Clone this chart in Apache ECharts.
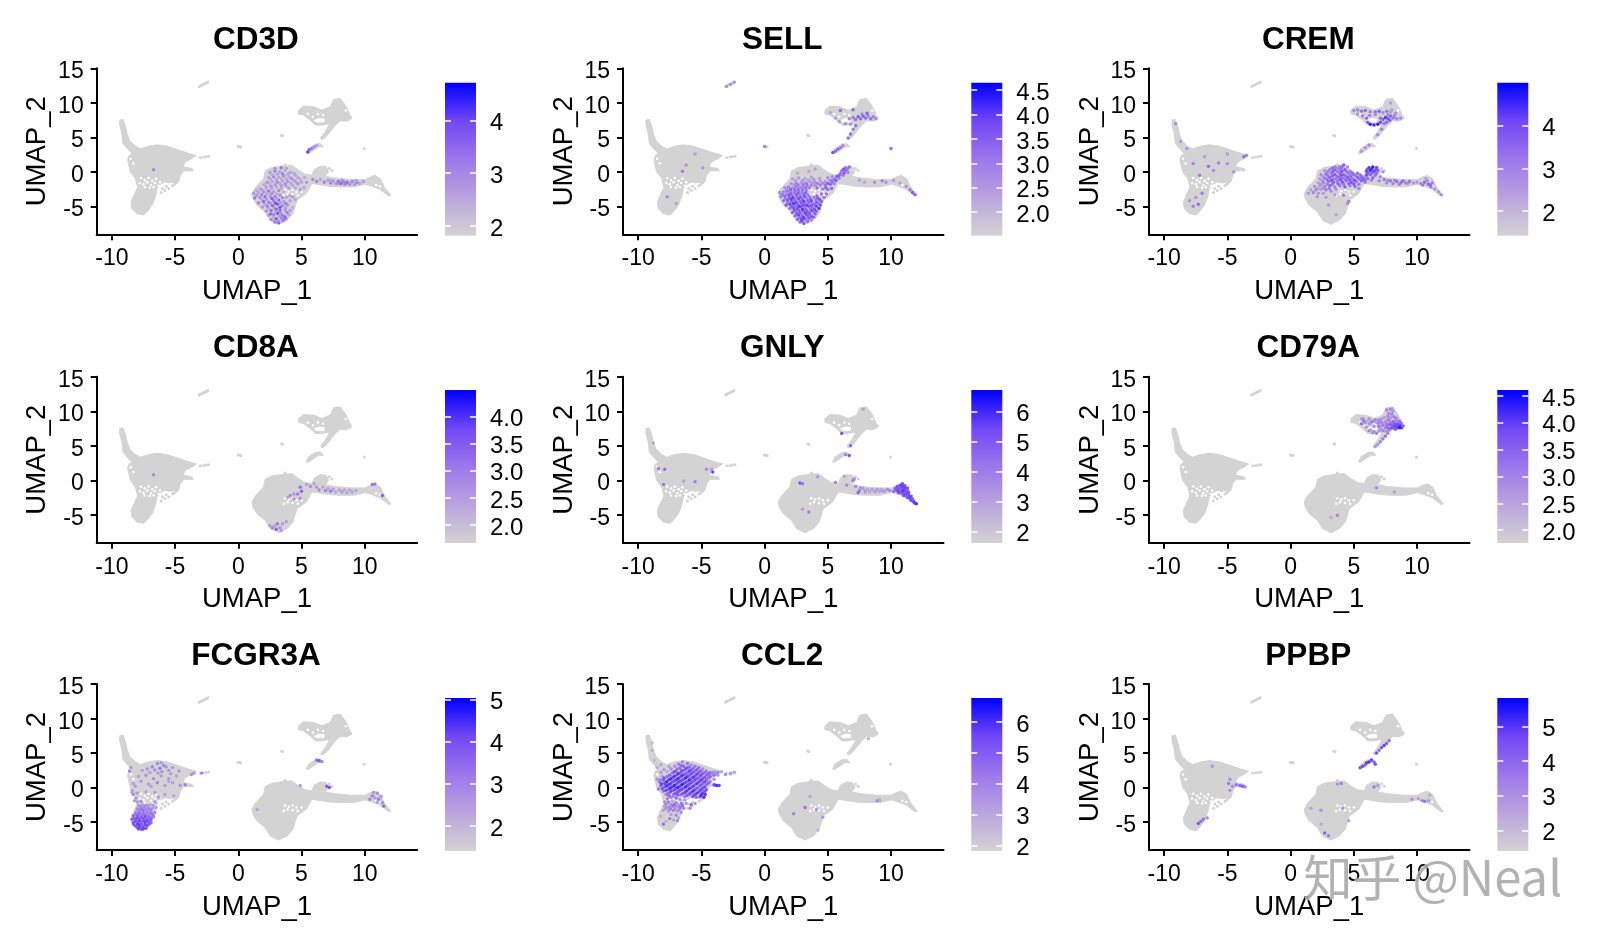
<!DOCTYPE html>
<html lang="en">
<head>
<meta charset="UTF-8">
<title>UMAP feature plots</title>
<script src="https://cdn.jsdelivr.net/npm/echarts@6/dist/echarts.min.js"></script>
<style>
  html, body { margin: 0; padding: 0; background: #fff; }
  #main { width: 1600px; height: 945px; }
</style>
</head>
<body>
<div id="main"></div>
<script>
const genes = ['CD3D', 'SELL', 'CREM', 'CD8A', 'GNLY', 'CD79A', 'FCGR3A', 'CCL2', 'PPBP'];
const xTicks = [-10, -5, 0, 5, 10];
const yTicks = [-5, 0, 5, 10, 15];
const xRange = [-11.2, 14.15];
const yRange = [-9.06, 15.03];

// colour bar range and ticks of every gene
const barMin = [1.82, 1.52, 1.42, 1.67, 1.62, 1.76, 1.41, 1.82, 1.41];
const barMax = [4.71, 4.65, 5.01, 4.49, 6.73, 4.61, 5.03, 6.78, 5.82];
const barTicks = [
  ['2', '3', '4'],
  ['2.0', '2.5', '3.0', '3.5', '4.0', '4.5'],
  ['2', '3', '4'],
  ['2.0', '2.5', '3.0', '3.5', '4.0'],
  ['2', '3', '4', '5', '6'],
  ['2.0', '2.5', '3.0', '3.5', '4.0', '4.5'],
  ['2', '3', '4', '5'],
  ['2', '3', '4', '5', '6'],
  ['2', '3', '4', '5']
];
const lowToHigh = ['#D3D3D3', '#BAA4DE', '#9C77EB', '#7147F5', '#0000FF'];

// shape of the cell clusters
const clusterMono = [[-9.38,7.51],[-9.12,7.61],[-8.93,6.64],[-8.8,5.57],[-8.59,4.51],[-8.14,3.73],[-7.75,3.34],[-7.09,3.73],[-6.43,3.92],[-5.64,3.73],[-4.85,3.25],[-4.06,2.76],[-3.32,2.37],[-3.66,1.94],[-4.19,1.45],[-4.37,0.73],[-3.66,0.48],[-3.58,0.15],[-4.32,0.15],[-4.58,-0.48],[-4.72,-1.45],[-5.51,-1.6],[-5.77,-1.45],[-6.17,-1.8],[-6.43,-2.42],[-6.56,-3.63],[-6.82,-4.85],[-7.22,-5.81],[-7.48,-6.25],[-8.01,-6.06],[-8.41,-5.33],[-8.48,-4.36],[-8.19,-3.15],[-7.96,-2.28],[-8.14,-0.97],[-8.54,0],[-8.75,1.7],[-8.67,2.28],[-8.41,2.66],[-8.8,3.39],[-9.12,4.12],[-9.2,5.57],[-9.38,6.78]];
const clusterT = [[1.08,-3.15],[1.34,-2.28],[2,-0.97],[2.13,0.15],[2.66,0.63],[3.58,0.87],[4.24,0.97],[4.77,0.24],[5.3,-0.34],[5.82,-0.48],[6.01,0.34],[6.48,0.82],[6.96,0.73],[7.14,0],[6.88,-0.63],[7.54,-0.87],[8.85,-1.11],[10.04,-1.11],[10.43,-0.73],[10.83,-0.53],[11.23,-0.97],[11.54,-2.18],[12.07,-3.44],[11.88,-3.49],[11.23,-2.57],[10.57,-2.08],[10.04,-1.79],[9.12,-2.18],[8.06,-2.18],[7.14,-2.08],[6.22,-1.79],[5.82,-1.7],[5.38,-3.15],[4.64,-4.12],[4.32,-6.06],[3.85,-7.03],[3.19,-7.61],[2.53,-7.03],[2.13,-5.81],[1.48,-4.85],[1.16,-3.88]];
const clusterB = [[4.77,8.96],[5.16,9.54],[5.96,9.45],[6.61,8.96],[7.27,9.45],[7.54,10.51],[8.06,10.66],[8.46,9.69],[8.72,8.72],[8.99,7.75],[8.59,7.36],[8.06,7.41],[7.67,6.78],[7.27,5.81],[6.88,4.99],[6.61,4.7],[6.53,4.99],[6.88,5.81],[7.14,6.64],[7.2,7],[6.48,6.75],[6.09,6.8],[5.69,7.5],[5.16,8.24],[4.77,8.38]];
const clusterArc = [[5.38,2.66],[5.56,3.39],[6.09,4.02],[6.48,4.12],[6.75,3.63],[6.35,3.63],[5.96,3.15],[5.56,2.66]];
const clusterSliver = [[-3.14,12.2],[-3.14,12.5],[-2.35,13.2],[-2.35,12.9]];
const clusterOutlines = [clusterMono, clusterT, clusterB, clusterArc, clusterSliver];
const holeOutlines = [[[5.95,7.5],[6.4,7.8],[6.85,7.7],[6.8,7.2],[6.2,7.15]]];
const strayPoints = [[3.5,5.23],[3.42,5.3],[-0.02,3.68],[0.1,3.66],[0.2,3.6],[9.96,3.39],[-3,2.1],[-2.75,2.15],[-2.55,2.2],[-2.35,2.25],[-5.2,-2],[-5.5,-2.4],[-5.8,-2.7],[-5.05,-1.8],[-6,-2.4],[-6.1,-3],[-5.7,-2.1],[-4.9,-1.55],[7.2,0.5],[7.4,0.2],[3.7,1.05]];
const gapDots = [[-7.7,-0.9],[-7.4,-1.2],[-7.1,-0.9],[-6.8,-1.3],[-6.5,-1],[-6.2,-1.5],[-7.8,-1.6],[-7.5,-1.8],[-7.2,-1.5],[-6.9,-1.9],[-6.6,-1.6],[-6.3,-2],[-7.4,-2.2],[-7,-2.3],[-6.7,-2.2],[-8.3,1.2],[-8.5,1.9],[3.7,-2.6],[4,-2.8],[4.3,-2.6],[4.6,-2.9],[3.9,-3.2],[4.3,-3.3],[3.6,-3.4],[4.7,-3.4],[5,-2.9],[8.9,8.45],[8.5,8.9],[5.5,8.4],[5.9,8],[6.3,8.4],[6.7,8.2],[11.2,-2.1],[10.9,-1.9]];

// points above the grey background: [UMAP_1, UMAP_2, expression]
const cd3dPoints = [[2.9,-7.3,3.2],[3.2,-7.4,3.6],[3.5,-7.1,2.8],[2.6,-6.9,3.0],[3.0,-6.8,3.7],[3.4,-6.7,3.1],[3.8,-6.8,2.6],[2.4,-6.3,2.7],[2.8,-6.2,3.3],[3.1,-6.0,3.9],[3.5,-6.3,3.2],[4.0,-6.2,2.6],[2.2,-5.7,2.9],[2.6,-5.6,3.4],[3.0,-5.4,3.8],[3.3,-5.6,3.5],[3.7,-5.5,2.9],[4.1,-5.6,2.7],[4.3,-5.2,2.4],[1.9,-5.1,2.8],[2.3,-5.0,3.2],[2.7,-4.9,3.5],[3.1,-4.7,3.7],[3.5,-4.9,3.0],[3.9,-4.8,2.8],[1.6,-4.5,3.1],[2.0,-4.3,3.5],[2.4,-4.4,3.1],[2.8,-4.2,3.3],[3.2,-4.1,3.6],[3.6,-4.3,2.7],[4.1,-4.2,2.6],[4.5,-4.0,2.5],[1.3,-3.8,3.3],[1.7,-3.7,2.9],[2.1,-3.6,3.4],[2.5,-3.5,2.8],[2.9,-3.6,3.2],[3.3,-3.4,2.9],[3.8,-3.7,2.6],[4.3,-3.6,2.7],[1.2,-3.1,2.7],[1.6,-3.0,2.6],[2.0,-2.9,2.9],[2.4,-2.8,3.3],[2.8,-2.9,2.7],[3.2,-2.7,3.0],[3.6,-2.9,2.5],[4.9,-2.6,2.7],[5.2,-2.3,2.5],[1.7,-2.4,2.4],[2.2,-2.2,2.7],[2.6,-2.1,3.0],[3.0,-2.2,2.6],[3.4,-2.0,2.8],[3.8,-2.1,2.5],[4.3,-1.9,2.6],[4.7,-1.7,2.9],[2.3,-1.5,2.8],[2.7,-1.4,2.5],[3.1,-1.5,3.0],[3.5,-1.3,2.6],[3.9,-1.4,2.8],[4.4,-1.2,2.5],[4.9,-1.1,2.4],[2.4,-0.8,2.6],[2.8,-0.7,3.1],[3.2,-0.8,2.6],[3.6,-0.6,2.9],[4.0,-0.7,2.5],[4.5,-0.5,2.6],[2.5,-0.1,2.7],[2.9,0.1,3.0],[3.3,0,2.7],[3.7,0.2,2.5],[4.1,-0.1,2.7],[2.9,0.5,2.9],[3.4,0.6,3.3],[3.8,0.5,2.6],[5.9,-1.1,2.9],[6.2,-1.4,3.0],[6.5,-1.1,2.6],[6.8,-1.5,3.1],[7.1,-1.2,2.8],[7.3,-1.6,3.2],[7.5,-1.3,2.9],[7.7,-1.7,2.7],[7.9,-1.4,3.4],[8.1,-1.7,3.6],[8.3,-1.4,3.3],[8.4,-1.8,3.0],[8.6,-1.5,3.5],[8.8,-1.8,2.9],[9,-1.4,3.1],[9.2,-1.8,2.8],[9.4,-1.5,3.0],[9.6,-1.7,2.6],[9.9,-1.4,2.7],[5.5,2.9,4.1],[5.6,3.2,3.5],[5.8,3.4,3.2],[6,3.6,2.9],[6.2,3.8,2.6],[-6.7,0.3,3.0]];
const cd3dMore = [[2.75,-7.05,2.6],[3.15,-7.1,2.9],[3.6,-6.95,3.3],[2.8,-6.55,2.5],[3.25,-6.4,2.7],[3.7,-6.55,3.5],[2.55,-6.1,3.5],[2.95,-5.8,2.6],[3.35,-5.95,2.8],[3.85,-5.9,3.1],[2.4,-5.35,2.5],[2.85,-5.2,2.9],[3.3,-5.15,3.9],[3.75,-5.2,2.6],[2.1,-4.7,2.6],[2.55,-4.55,2.9],[2.95,-4.55,3.9],[3.35,-4.5,2.7],[3.75,-4.6,3.2],[1.85,-4,2.6],[2.25,-3.95,2.8],[2.65,-3.85,3.6],[3.05,-3.9,2.6],[3.5,-3.75,3.0],[4.05,-3.45,2.5],[1.45,-3.4,2.8],[1.85,-3.3,3.1],[2.25,-3.2,2.6],[2.65,-3.15,3.0],[3.05,-3.2,2.5],[1.45,-2.7,2.5],[1.85,-2.55,2.7],[2.25,-2.5,2.5],[2.65,-2.45,2.6],[3.4,-2.4,2.5],[4,-2.35,2.7],[4.5,-2.3,2.5],[2.05,-1.85,2.6],[2.5,-1.75,2.5],[2.9,-1.85,2.8],[3.3,-1.7,2.5],[3.7,-1.75,3.0],[4.15,-1.6,2.5],[4.55,-1.45,2.7],[5,-1.5,2.6],[5.4,-1.5,2.7],[2.55,-1.1,2.5],[3,-1.15,2.7],[3.4,-1,2.5],[3.8,-1.05,2.6],[4.2,-0.95,2.9],[4.7,-0.85,2.5],[5.25,-0.8,2.5],[2.7,-0.4,2.5],[3.1,-0.35,2.6],[3.5,-0.3,3.1],[3.9,-0.35,2.5],[4.4,-0.2,2.5],[7.3,-1.25,2.6],[7.85,-1.65,2.9],[8.2,-1.25,2.9],[8.5,-1.7,3.2],[8.9,-1.6,2.7],[9.3,-1.25,2.6]];
const sellPoints = [[2.8,-7.3,3.1],[3.1,-7.5,3.5],[3.4,-7.2,3.3],[3.7,-7,2.9],[2.6,-6.9,3.4],[2.9,-6.8,3.8],[3.2,-6.9,3.2],[3.5,-6.7,3.6],[3.9,-6.6,3.0],[2.4,-6.4,3.3],[2.7,-6.3,3.9],[3,-6.4,3.4],[3.3,-6.2,3.7],[3.6,-6.3,3.2],[4,-6.1,3.5],[2.2,-5.9,3.5],[2.5,-5.8,3.2],[2.8,-5.9,3.8],[3.1,-5.7,3.3],[3.4,-5.8,3.6],[3.7,-5.6,3.9],[4.1,-5.7,3.4],[4.3,-5.3,4.0],[2,-5.3,3.2],[2.3,-5.2,3.7],[2.6,-5.3,3.9],[2.9,-5.1,3.4],[3.2,-5.2,3.1],[3.5,-5,3.6],[3.8,-5.2,3.3],[4.1,-5,3.9],[4.4,-4.8,3.8],[1.7,-4.8,3.6],[2,-4.7,3.9],[2.3,-4.6,4.1],[2.6,-4.7,3.3],[2.9,-4.5,3.7],[3.2,-4.6,3.2],[3.5,-4.4,3.5],[3.8,-4.6,3.0],[4.1,-4.4,3.6],[4.5,-4.3,3.4],[1.5,-4.2,3.3],[1.8,-4.1,3.7],[2.1,-4,4.0],[2.4,-4.1,3.5],[2.7,-3.9,3.8],[3,-4,3.3],[3.3,-3.8,3.0],[3.6,-3.9,3.4],[3.9,-3.7,3.1],[4.2,-3.8,3.5],[4.7,-3.7,3.1],[1.3,-3.6,3.0],[1.6,-3.5,3.4],[1.9,-3.4,3.6],[2.2,-3.5,3.2],[2.5,-3.3,3.5],[2.8,-3.4,3.1],[3.1,-3.2,3.4],[3.4,-3.3,2.9],[4.5,-3.2,3.2],[4.9,-3.2,3.0],[1.2,-3,2.8],[1.5,-2.9,3.0],[1.8,-2.8,3.3],[2.1,-2.9,3.0],[2.4,-2.7,3.4],[2.7,-2.8,2.9],[3,-2.6,3.3],[3.3,-2.7,2.8],[4.6,-2.5,3.0],[5,-2.6,3.2],[5.3,-2.4,3.3],[1.6,-2.3,2.7],[1.9,-2.2,3.0],[2.2,-2.3,2.7],[2.5,-2.1,3.1],[2.8,-2.2,2.7],[3.1,-2,3.0],[3.4,-2.1,2.7],[3.7,-1.9,3.0],[4,-2,2.8],[4.4,-1.9,2.9],[4.8,-1.9,3.1],[5.2,-1.8,3.4],[5.5,-1.7,3.0],[2.1,-1.7,2.6],[2.5,-1.6,2.9],[2.9,-1.5,2.5],[3.2,-1.6,2.7],[3.6,-1.4,2.5],[4,-1.5,2.7],[4.4,-1.3,2.6],[4.8,-1.4,2.5],[5.2,-1.2,3.0],[5.5,-1.1,3.3],[5.7,-0.7,3.4],[5.9,-0.9,3.0],[2.2,-1,2.4],[2.7,-0.9,2.6],[3.2,-1,2.4],[3.7,-0.8,2.4],[6,-0.3,3.3],[6.2,-0.5,3.0],[6.1,0.1,3.1],[6.4,0.2,3.4],[6.4,0.6,3.0],[6.7,0.7,3.2],[6.6,-0.1,2.8],[2.6,-0.2,2.3],[3.5,0.1,2.3],[4,0.4,2.4],[7.5,-1.2,2.4],[7.9,-1.5,2.3],[8.7,-1.5,2.6],[9.3,-1.3,3.0],[9.6,-1.5,2.6],[10.2,-1.2,2.5],[10.7,-1.6,2.4],[11.2,-2.1,2.7],[11.5,-2.6,3.0],[11.7,-3,3.6],[11.9,-3.3,3.4],[6.7,7.7,2.8],[7,7.9,3.0],[7.2,7.6,3.2],[7.4,8,3.5],[7.6,7.7,3.3],[7.8,8.1,3.6],[8,7.8,3.3],[8.2,8.1,3.0],[8.4,7.7,3.2],[8.6,8,2.9],[8.8,7.7,2.8],[7.7,8.4,2.9],[8.1,8.5,3.4],[5.6,7.8,2.5],[5.9,7.3,2.4],[6.4,7,2.7],[6.8,6.9,2.6],[5.2,8.6,2.3],[6,8.9,3.2],[7,9,3.4],[7.2,6.7,3.2],[7,6.2,3.0],[6.8,5.5,3.3],[6.6,4.9,3.2],[5.4,2.8,3.8],[5.6,3,3.3],[5.8,3.3,3.4],[6,3.5,3.0],[6.2,3.8,2.8],[-3,12.4,2.6],[-2.7,12.7,2.8],[-2.4,13,2.6],[0,3.7,3.0],[10,3.4,3.2],[-6.5,0.1,3.0],[-7.7,-3.6,2.7],[-6.2,1,2.6],[-5.5,2.6,2.5],[-7,-4.6,2.4],[-4.9,0.6,2.5]];
const sellMore = [[2.95,-7.1,3.9],[3.3,-7,3.0],[2.75,-6.6,3.2],[3.1,-6.65,4.0],[3.4,-6.45,3.4],[3.75,-6.5,3.7],[2.55,-6.1,3.6],[2.9,-6.1,3.1],[3.2,-5.95,3.9],[3.55,-6.05,3.5],[3.9,-5.85,3.2],[2.35,-5.55,3.8],[2.7,-5.55,3.5],[3,-5.45,4.1],[3.3,-5.5,3.4],[3.6,-5.35,3.2],[3.95,-5.45,3.7],[2.15,-5,3.6],[2.45,-4.95,3.2],[2.75,-5,4.0],[3.05,-4.85,3.7],[3.35,-4.85,3.9],[3.7,-4.85,3.5],[3.95,-4.75,3.3],[4.3,-4.6,3.2],[1.85,-4.45,3.2],[2.15,-4.35,3.5],[2.5,-4.4,3.8],[2.8,-4.25,3.3],[3.1,-4.25,3.9],[3.4,-4.15,3.3],[3.7,-4.2,3.8],[4.05,-4.1,3.2],[4.35,-4,3.7],[1.65,-3.85,3.1],[1.95,-3.75,3.5],[2.25,-3.75,3.9],[2.55,-3.65,3.3],[2.85,-3.7,3.5],[3.15,-3.55,3.7],[3.55,-3.55,3.1],[4.15,-3.5,3.3],[1.4,-3.3,3.2],[1.75,-3.15,2.9],[2.05,-3.15,3.5],[2.35,-3.05,3.1],[2.65,-3.05,3.6],[2.95,-3,3.0],[3.25,-3,3.4],[1.75,-2.55,2.8],[2.05,-2.55,3.4],[2.35,-2.45,3.0],[2.65,-2.5,3.3],[2.95,-2.35,2.9],[3.25,-2.35,3.2],[3.55,-2.3,2.9],[4.15,-2.35,3.1],[4.85,-2.3,3.4],[2.35,-1.85,2.7],[2.65,-1.85,3.0],[3,-1.8,2.9],[3.35,-1.75,3.2],[3.8,-1.65,2.6],[4.2,-1.7,3.0],[4.6,-1.65,2.8],[5,-1.65,3.4],[5.35,-1.45,3.2],[5.65,-1.25,3.5],[5.85,-0.55,3.5],[6.3,-0.15,3.5],[6.25,0.4,3.6],[6.55,0.4,3.1],[2.45,-1.25,2.4],[3,-1.25,2.5],[3.45,-1.2,2.4],[3.9,-1.1,2.5],[4.35,-0.95,2.4],[5,-0.85,2.6],[5.35,-0.7,2.8]];
const cremPoints = [[2.6,-3.1,2.5],[1.4,-3.1,2.6],[1.8,-3,2.9],[2.2,-3.1,2.6],[1.6,-2.6,2.4],[2,-2.6,3.0],[2.4,-2.5,2.7],[2.8,-2.6,3.2],[3.2,-2.8,2.9],[3.5,-3.3,2.5],[1.9,-2.1,2.7],[2.3,-2,2.5],[2.7,-2.1,3.1],[3.1,-2,3.5],[3.5,-2.2,3.0],[3.9,-2,3.3],[4.3,-2.2,3.7],[4.7,-2,3.2],[5.1,-2.1,3.5],[5.4,-2.4,2.9],[2.2,-1.6,2.6],[2.6,-1.5,3.0],[3,-1.4,3.4],[3.4,-1.5,3.7],[3.7,-1.3,3.3],[4.1,-1.5,3.9],[4.4,-1.3,3.5],[4.8,-1.5,3.9],[5.2,-1.4,3.4],[5.6,-1.3,3.6],[5.9,-1.5,3.0],[2.3,-1,2.5],[2.7,-0.9,3.3],[3.1,-0.8,3.7],[3.4,-1,3.0],[3.8,-0.8,3.6],[4.1,-0.9,3.2],[4.5,-0.8,3.8],[4.9,-1,3.3],[5.3,-0.8,3.7],[5.7,-0.9,3.9],[6.1,-1,3.4],[6.4,-1.2,3.0],[2.4,-0.4,2.8],[2.8,-0.3,3.5],[3.2,-0.2,3.1],[3.5,-0.4,3.9],[3.9,-0.2,3.4],[4.2,-0.4,3.7],[4.6,-0.3,3.2],[5,-0.4,3.5],[5.5,-0.4,3.1],[6,-0.5,3.9],[6.3,-0.4,3.6],[6.7,-0.5,3.3],[7.1,-0.7,2.9],[2.7,0.2,2.7],[3.1,0.3,3.1],[3.5,0.3,3.6],[3.9,0.4,3.3],[4.3,0.3,3.8],[4.7,0.1,3.0],[6,0.1,4.1],[6.3,0.2,4.4],[6.6,0.1,4.2],[6.9,0.2,3.6],[6.2,0.6,4.3],[6.5,0.7,4.6],[6.8,0.6,4.1],[7.3,0,2.8],[3.5,0.7,3.2],[3.9,0.8,3.0],[4.2,1,3.8],[4.5,0.7,2.9],[7,-1.3,3.0],[7.4,-1.1,3.2],[7.6,-1.6,2.9],[7.9,-1.3,3.3],[8.1,-1.7,3.0],[8.4,-1.4,3.4],[8.6,-1.8,3.0],[8.9,-1.3,3.5],[9.1,-1.6,3.1],[9.4,-1.4,3.3],[9.7,-1.6,2.6],[10,-1.5,2.4],[10.3,-1.7,3.0],[10.6,-1.5,3.4],[10.9,-1.8,3.6],[11.2,-1.6,3.0],[10.7,-1,2.4],[11.1,-2.2,3.0],[11.4,-2.5,2.6],[11.7,-2.9,2.7],[11.9,-3.3,2.8],[3,-4.8,2.6],[2.8,-3.7,2.6],[2.1,-3.6,2.6],[4.5,-4.6,2.7],[4.6,-4.3,3.2],[4.2,-3.4,3.0],[3.6,-6.2,2.4],[5,8.9,2.8],[5.3,9,3.0],[5.6,8.8,3.3],[5.9,8.9,3.5],[6.3,8.7,3.2],[6.7,8.7,3.4],[7,8.8,3.6],[7.3,8.6,2.9],[7.6,8.8,3.2],[5.3,8.4,2.6],[5.7,8.1,3.2],[6,7.8,3.6],[6.1,7.2,3.8],[6.3,6.9,4.6],[6.6,6.8,4.5],[6.9,6.9,4.6],[7.1,7.2,4.0],[7.3,7.6,3.8],[7.5,7.9,4.3],[7.7,7.7,4.0],[7.9,8.1,3.5],[8.1,7.8,3.3],[8.4,7.7,3.0],[8.7,7.8,2.9],[8.3,8.5,2.7],[8,9,2.6],[7.9,10,2.5],[7.4,7,3.4],[7.2,6.2,3.0],[6.9,5.4,2.9],[6.2,3.9,2.9],[5.9,3.5,2.7],[5.6,3,2.6],[-3.7,2.2,3.4],[-3.5,2.4,3.0],[-6.5,0.8,3.4],[-7.7,1.2,3.1],[-5.7,1.3,3.0],[-5,1.2,2.8],[-7.2,-0.5,3.1],[-6.1,0.2,2.7],[-6.8,2.2,2.5],[-5,2.6,2.6],[-4.5,0,2.8],[-7,-3.1,3.1],[-7.3,-4.7,3.4],[-7.7,-5,3.0],[-8,-4.2,2.6],[-9.1,7,2.8],[-8.7,4.4,2.5],[-8.2,3.4,2.6],[-7.5,-3.7,2.7]];
const cremMore = [[2.15,-2.4,2.5],[2.6,-2.35,2.8],[3.05,-2.4,3.2],[3.6,-2.55,2.8],[2.45,-1.8,2.7],[2.9,-1.75,3.2],[3.3,-1.8,3.4],[3.75,-1.7,3.7],[4.2,-1.8,3.3],[4.6,-1.7,3.6],[5,-1.75,3.9],[5.4,-1.8,3.2],[2.5,-1.25,2.8],[2.9,-1.15,3.5],[3.25,-1.2,3.9],[3.6,-1.05,3.2],[3.95,-1.15,3.9],[4.3,-1.05,3.4],[4.65,-1.15,3.7],[5.05,-1.2,3.9],[5.45,-1.05,3.4],[5.85,-1.2,3.6],[2.55,-0.65,2.7],[2.95,-0.55,3.3],[3.3,-0.55,3.6],[3.65,-0.6,3.3],[4,-0.5,4.0],[4.35,-0.6,3.4],[4.75,-0.65,3.6],[5.15,-0.6,3.3],[5.6,-0.65,3.5],[5.95,-0.8,3.2],[6.5,-0.85,3.5],[2.95,0,3.2],[3.35,0.05,3.7],[3.7,0.05,3.2],[4.05,0.1,3.9],[4.45,0,3.5],[4.85,-0.15,3.6],[5.3,-0.2,3.2],[6.1,-0.15,3.9],[6.45,-0.15,3.7],[6.8,-0.2,3.4],[3.3,0.55,3.5],[3.7,0.55,3.0],[4.05,0.65,3.4],[6.05,0.35,3.9],[6.4,0.4,4.5],[6.75,0.35,3.9],[7.7,-1.25,2.9],[8.25,-1.25,3.1],[8.75,-1.55,3.3],[9.25,-1.7,2.8],[10.45,-1.9,3.2],[10.8,-1.3,2.8],[11.05,-1.95,3.4],[7.85,7.5,3.7],[8.2,8.1,3.1],[7.7,8.3,3.0],[7.1,7.8,3.5],[6.7,8.3,2.8],[6.25,8.2,3.1],[7.6,7.2,3.5],[7.9,8.7,2.6]];
const cd8aPoints = [[5.4,-0.6,2.5],[5.7,-0.9,2.7],[6,-0.5,2.4],[6.2,-1,2.6],[6.4,-1.4,2.8],[6.7,-1,2.4],[6.9,-1.5,3.0],[7.1,-1.2,2.5],[7.3,-1.6,3.0],[7.5,-1.3,2.5],[7.7,-1.7,2.4],[8,-1.4,2.5],[8.2,-1.7,2.6],[8.4,-1.4,2.4],[8.6,-1.8,2.5],[8.8,-1.4,2.4],[9,-1.7,2.5],[9.3,-1.5,2.4],[4.9,-1,3.2],[5,-1.6,3.4],[4.7,-2,3.0],[4.9,-2.6,2.6],[4.4,-2,2.6],[4.1,-2.2,2.8],[3.9,-2.5,2.4],[4.4,-2.7,2.6],[2.5,-6.6,2.5],[2.7,-6.9,2.8],[3,-7.1,3.3],[3.3,-6.9,2.6],[3.1,-6.3,3.0],[3.5,-6.3,2.5],[3.8,-6,2.6],[2.9,-6.6,2.5],[3.4,-7.3,2.5],[-6.7,0.8,2.8],[10.6,-0.6,3.2],[10.8,-0.55,3.0],[11.4,-2.2,3.4]];
const gnlyPoints = [[10.3,-1.2,4.2],[10.5,-0.9,5.0],[10.7,-0.7,5.2],[10.9,-0.5,5.4],[11.1,-0.8,5.1],[11.3,-1.1,4.9],[10.4,-1.5,4.6],[10.6,-1.3,5.3],[10.8,-1.1,5.5],[11,-1.3,5.0],[11.2,-1.5,5.3],[11.4,-1.7,5.0],[10.6,-1.8,5.2],[10.8,-1.6,4.8],[11,-1.8,5.4],[11.2,-2,5.1],[11.4,-2.2,5.2],[11.6,-2.3,4.9],[11,-2.2,4.9],[11.3,-2.5,5.3],[11.5,-2.7,5.0],[11.7,-2.7,5.2],[11.8,-3.1,5.5],[12,-3.4,5.9],[10.9,-0.9,5.0],[10.2,-1.6,4.4],[8.5,-1.3,3.1],[8.7,-1.6,3.0],[8.9,-1.3,3.2],[9.1,-1.6,3.3],[9.3,-1.4,3.0],[9.5,-1.6,2.9],[9.7,-1.3,3.4],[9.9,-1.5,3.7],[8.3,-1.7,2.9],[8,-1.5,3.1],[7.8,-1.2,3.0],[7.5,-1.5,4.1],[7.6,-1.1,3.6],[7.2,-0.9,3.6],[7.4,-1.8,4.8],[7,0,4.2],[7.1,0.2,3.5],[6.3,0.6,3.0],[5.6,-0.3,4.0],[6.5,-0.7,3.8],[2.8,-0.4,5.0],[3,-0.5,4.2],[4.2,0.5,3.3],[3.5,-4.6,4.0],[3,-4.2,3.0],[6.1,6.8,5.3],[6.8,5,4.5],[6.4,3.7,3.8],[6.7,3.6,5.0],[7.8,10.3,3.1],[-4.6,1.6,3.8],[-4.2,1.6,3.0],[-4.1,1.2,5.4],[-8.4,1.7,4.0],[-6.4,-0.1,3.0],[-5.5,-0.2,4.0],[-8,-0.6,4.2],[-8.8,5.4,2.8],[-7.9,1.6,4.5]];
const gnlyMore = [[10.45,-1.15,5.3],[10.65,-1,4.9],[10.85,-0.8,5.5],[11.05,-1.05,5.6],[11.25,-1.3,5.2],[10.55,-1.55,5.5],[10.75,-1.35,5.0],[10.95,-1.55,5.7],[11.15,-1.75,5.0],[11.35,-1.95,5.6],[10.85,-1.9,5.0],[11.1,-2.15,5.5],[11.25,-2.25,4.9],[11.5,-2.45,5.5],[11.6,-2.95,5.4],[11.85,-3.3,5.6],[8.6,-1.5,2.8],[8.8,-1.7,3.0],[9,-1.45,2.7],[9.2,-1.3,2.9],[9.4,-1.6,3.2],[8.15,-1.35,2.8],[7.95,-1.7,3.3],[8.4,-1.4,2.7]];
const cd79aPoints = [[5.6,8.9,2.6],[5.8,8.6,3.4],[5.6,8.2,3.2],[5.9,8.3,2.8],[6.2,8.9,2.7],[6.4,8.5,3.2],[6.7,8.8,3.0],[6.8,8.4,2.6],[7,8.7,3.1],[7.2,8.4,3.0],[6,7.7,2.7],[6.2,7.2,3.0],[6.5,6.9,2.8],[6.8,6.8,3.0],[7,7.2,2.8],[6.6,7.8,2.7],[7,7.8,3.2],[7.3,7.2,3.0],[7.3,8,3.3],[7.5,8.5,2.9],[7.6,7.8,3.6],[7.7,8.8,3.2],[7.8,7.3,3.0],[7.9,8.1,3.7],[8,7.6,3.9],[8.1,8.5,3.4],[8.2,7.9,4.0],[8.3,7.4,3.5],[8.4,8.2,3.8],[8.5,7.7,4.2],[8.6,8.6,3.3],[8.7,8,4.1],[8.8,7.6,3.7],[8.9,7.9,3.5],[7.7,9.3,2.9],[8,9.6,3.0],[7.6,10.2,2.9],[7.9,10.3,3.1],[8.1,10,2.7],[8.2,9.2,3.2],[8.4,9,2.9],[7.4,9.1,2.6],[7.7,6.8,3.0],[7.5,6.4,3.2],[7.3,6,3.1],[7.1,5.6,2.9],[6.9,5.2,2.7],[6.7,4.9,2.6],[3.7,-5.1,3.0],[3.2,-5.4,2.4],[6.8,-1.1,3.0],[8.2,-1.7,2.6]];
const cd79aMore = [[5.75,8.95,2.8],[6.05,8.55,2.5],[6.55,8.6,2.9],[6.95,8.25,3.0],[7.4,8.25,2.7],[7.5,7.6,3.0],[7.65,8.15,3.3],[7.75,7.55,3.4],[7.85,8.45,3.0],[8,8.05,3.5],[8.15,7.65,3.7],[8.25,8.25,3.6],[8.35,7.85,3.9],[8.45,8.5,3.1],[8.55,8.05,3.9],[8.65,7.65,4.3],[8.75,8.3,3.4],[8.3,8.8,2.9],[7.85,8.9,2.8],[8,9.2,2.7],[7.75,9.7,2.9],[8.05,10.35,2.6],[7.15,7.45,2.7],[6.35,7.3,2.6],[6.6,7.1,2.8],[7.55,7.1,2.9],[7.2,8.9,2.7],[6.25,8.2,2.8]];
const fcgrPoints = [[-7.9,-6,4.1],[-7.6,-6.1,3.8],[-7.3,-5.9,3.9],[-8.1,-5.6,3.7],[-7.8,-5.5,4.2],[-7.5,-5.6,3.6],[-7.2,-5.5,4.0],[-6.9,-5.1,3.4],[-8.3,-5.1,4.0],[-8,-5,3.6],[-7.7,-5.1,3.9],[-7.4,-5,4.3],[-7.1,-5,3.7],[-8.4,-4.6,3.8],[-8.1,-4.5,4.2],[-7.8,-4.6,3.6],[-7.5,-4.5,4.0],[-7.2,-4.6,3.5],[-6.9,-4.5,3.8],[-6.7,-4.2,3.2],[-8.3,-4.1,3.4],[-8,-4,3.7],[-7.7,-4.1,3.3],[-7.4,-4,3.6],[-7.1,-4.1,3.2],[-6.8,-3.9,3.4],[-6.6,-3.6,2.9],[-8.1,-3.6,3.1],[-7.8,-3.5,3.4],[-7.5,-3.6,3.0],[-7.2,-3.5,3.3],[-6.9,-3.5,2.8],[-8,-3.1,2.9],[-7.7,-3,3.2],[-7.4,-3.1,2.7],[-7.1,-3,3.0],[-6.8,-3,2.6],[-6.5,-2.9,2.5],[-7.9,-2.6,2.7],[-7.6,-2.5,2.5],[-7.3,-2.6,2.9],[-7,-2.5,2.5],[-8,-2.1,2.6],[-7.7,-2,2.8],[-6.6,-2.1,2.6],[-8.1,-1.5,2.7],[-6.3,-1.4,2.5],[-8.3,-1,2.8],[-8,-0.8,2.5],[-7.3,-0.6,2.4],[-8.4,-0.4,2.5],[-6.6,-0.7,2.6],[-5.8,-1,2.5],[-5.1,-1.2,2.4],[-8.3,0.6,2.4],[-7.7,0.9,2.6],[-7.1,0.5,2.6],[-6.4,0.7,2.9],[-5.8,0.3,2.5],[-5.2,0.7,2.5],[-4.6,0.3,2.6],[-4.2,0.4,3.0],[-7.9,1.6,2.5],[-7.3,1.8,2.7],[-6.7,1.3,2.8],[-6.1,1.7,2.5],[-5.5,1.3,2.6],[-4.9,1.7,2.4],[-7.2,2.7,2.7],[-6.8,3,3.0],[-6.4,3.5,2.9],[-6.2,2.8,3.2],[-5.9,3.2,3.0],[-5.5,2.5,2.6],[-5.2,2.9,2.6],[-4.7,2.4,2.7],[-7.6,2.5,2.4],[-8.6,2.4,3.0],[-8.5,2.9,2.7],[-3.7,1.9,2.8],[-3.5,2.1,2.7],[-2.9,2.1,3.0],[10.4,-1.7,2.9],[10.6,-1.2,3.1],[10.8,-1.5,2.6],[11,-0.8,2.9],[11.1,-1.7,3.2],[10.7,-0.7,2.6],[11.4,-2.2,2.7],[11.3,-1.3,2.5],[11,-2.1,2.5],[11.5,-2.7,3.4],[6.2,4,3.4],[6.4,3.9,3.8],[6.6,3.8,3.0],[7,0.2,3.8],[7.2,0,4.0],[4.9,0.3,2.6],[1.5,-3.2,2.5]];
const fcgrMore = [[-7.75,-5.95,4.0],[-7.45,-5.85,4.3],[-7.95,-5.8,3.9],[-7.65,-5.75,3.9],[-7.35,-5.7,3.6],[-8.25,-5.35,3.8],[-7.95,-5.3,4.3],[-7.65,-5.35,3.7],[-7.35,-5.3,4.1],[-7.05,-5.3,3.8],[-8.15,-4.85,3.9],[-7.85,-4.8,4.1],[-7.55,-4.8,3.8],[-7.25,-4.8,4.1],[-6.95,-4.75,3.6],[-8.25,-4.35,3.5],[-7.95,-4.3,3.9],[-7.65,-4.35,3.7],[-7.35,-4.25,3.9],[-7.05,-4.35,3.5],[-6.8,-4.25,3.1],[-8.15,-3.85,3.2],[-7.85,-3.8,3.5],[-7.55,-3.85,3.4],[-7.25,-3.8,3.1],[-6.95,-3.75,3.2],[-7.85,-3.3,3.0],[-7.55,-3.3,3.3],[-7.25,-3.25,2.8],[-6.95,-3.25,3.0],[-7.75,-2.75,2.8],[-7.45,-2.8,3.0],[-7.15,-2.75,2.7],[-6.75,-2.6,2.5],[-8.2,-1.9,2.5],[-8.4,-0.75,2.6],[-8.15,0.2,2.5],[-6.9,0.2,2.5],[-5.5,0.9,2.4],[-6.35,2.1,2.6],[-6.6,2.55,2.8],[-6.05,2.3,2.7],[-7,2.2,2.5],[-5.7,3,2.7],[-6.1,3.6,2.6],[-5.35,2,2.5]];
const ccl2Points = [[-8.5,1.2,3.6],[-8.3,0.8,4.6],[-8.2,0.3,5.0],[-8.4,-0.2,4.2],[-8.1,1.6,3.4],[-8,1.1,5.0],[-7.9,0.6,5.6],[-7.9,0.1,5.3],[-8,-0.5,4.6],[-7.8,-1,3.8],[-7.7,2.3,3.0],[-7.7,1.6,4.6],[-7.6,1.1,5.4],[-7.6,0.4,5.8],[-7.6,-0.2,5.4],[-7.5,-0.7,4.8],[-7.4,2.7,3.8],[-7.3,2.1,4.4],[-7.3,1.4,5.5],[-7.3,0.8,5.2],[-7.3,0.1,5.7],[-7.2,-0.4,5.1],[-7.2,-1,4.4],[-7.1,3.1,3.6],[-7,2.4,4.9],[-7,1.8,5.1],[-7,1.1,5.7],[-7,0.5,5.3],[-7,-0.1,5.7],[-6.9,-0.7,4.9],[-6.8,3.4,4.2],[-6.7,2.8,4.6],[-6.7,2.1,5.4],[-6.7,1.5,5.0],[-6.7,0.9,5.8],[-6.7,0.2,5.2],[-6.7,-0.4,5.6],[-6.6,-1,4.6],[-6.5,3.7,3.8],[-6.4,3.1,5.0],[-6.4,2.5,4.6],[-6.4,1.9,5.5],[-6.4,1.2,5.2],[-6.4,0.6,5.8],[-6.4,-0.1,5.1],[-6.3,-0.7,5.5],[-6.3,-1.3,4.2],[-6.1,3.5,4.4],[-6.1,2.9,5.2],[-6.1,2.2,4.8],[-6.1,1.6,5.8],[-6.1,0.9,5.0],[-6.1,0.3,5.6],[-6.1,-0.4,5.3],[-6,-1,5.0],[-5.8,3.3,3.6],[-5.8,2.6,5.0],[-5.8,2,5.4],[-5.8,1.3,4.8],[-5.8,0.7,5.5],[-5.8,0,5.1],[-5.8,-0.7,5.6],[-5.7,-1.3,4.8],[-5.5,3.1,4.2],[-5.5,2.4,4.6],[-5.5,1.7,5.2],[-5.5,1.1,5.6],[-5.5,0.4,5.0],[-5.5,-0.3,5.4],[-5.5,-1,5.2],[-5.4,-1.4,4.6],[-5.2,2.9,4.6],[-5.2,2.2,5.1],[-5.2,1.5,4.6],[-5.2,0.8,5.5],[-5.2,0.1,4.8],[-5.2,-0.6,5.4],[-5.1,-1.3,5.6],[-4.9,2.7,3.8],[-4.9,2,5.0],[-4.9,1.3,5.4],[-4.9,0.6,4.8],[-4.9,-0.1,5.2],[-4.9,-0.8,5.7],[-4.8,-1.4,5.9],[-4.6,2.4,4.2],[-4.6,1.8,4.6],[-4.6,1.1,5.0],[-4.6,0.4,4.6],[-4.6,-0.3,5.0],[-4.7,-1,5.8],[-4.3,2.2,4.4],[-4.3,1.6,4.8],[-4.3,0.9,4.0],[-4,2.3,3.6],[-4,1.8,4.6],[-4,1.2,3.6],[-3.7,2.2,4.2],[-3.7,1.8,3.4],[-3.4,2.3,3.0],[-4,0.4,5.4],[-3.8,0.3,6.0],[-3.6,0.3,5.6],[-3.1,1.9,3.8],[-2.7,2,3.4],[-2.4,2.2,3.0],[-8.2,3.3,3.2],[-8.5,2.9,3.0],[-8.7,4,2.6],[-8.9,5.4,2.8],[-8.9,6.5,2.4],[-7.7,-1.6,4.2],[-7.4,-1.4,3.8],[-7,-1.5,4.6],[-6.7,-1.7,3.6],[-6.3,-1.8,3.4],[-7.9,-2.1,3.6],[-7.6,-2.1,4.2],[-7.3,-2,3.2],[-7,-2.2,4.0],[-6.6,-2.3,4.4],[-6.2,-2.3,3.5],[-5.8,-2.5,4.8],[-5.5,-2.3,3.5],[-5.9,-3,3.8],[-7.9,-2.7,3.4],[-7.6,-2.8,3.8],[-7.3,-2.7,4.4],[-7,-2.8,3.6],[-6.7,-2.9,4.5],[-6.4,-3,3.9],[-8,-3.3,3.2],[-7.6,-3.4,3.6],[-7.2,-3.3,4.2],[-6.9,-3.4,3.4],[-6.6,-3.6,3.7],[-7.4,-3.9,3.2],[-7,-4,3.9],[-6.8,-4.4,3.0],[-8.2,-4.2,2.8],[-7.5,-4.5,4.0],[-7.2,-4.7,3.0],[-8,-5.3,4.6],[-6.9,-4.8,3.8],[-7.8,-4.9,2.8],[3.2,-2.9,4.4],[2.3,-3.8,4.0],[4.1,-3.2,3.6],[4.6,-4.3,3.4],[3.6,-1.3,3.0],[8.9,-1.9,3.8],[9.1,-1.8,3.2],[8.2,7.1,2.8],[4.2,-6.2,2.6]];
const ccl2More = [[-8.15,0.55,5.6],[-8.1,-0.15,5.2],[-8.25,1.15,4.2],[-7.95,1.4,5.4],[-7.75,0.85,6.0],[-7.75,0.25,5.9],[-7.8,-0.4,5.6],[-7.65,-0.85,4.6],[-7.5,1.8,5.0],[-7.45,1.25,6.0],[-7.45,0.55,5.7],[-7.45,-0.05,6.0],[-7.4,-0.5,5.5],[-7.15,2.3,5.3],[-7.15,1.6,5.9],[-7.15,0.95,5.4],[-7.15,0.3,6.1],[-7.05,-0.25,5.5],[-7.05,-0.85,5.2],[-6.9,2.7,4.4],[-6.85,2,5.8],[-6.85,1.3,6.0],[-6.85,0.7,5.5],[-6.85,0.05,6.1],[-6.8,-0.55,5.3],[-6.6,3.2,4.6],[-6.55,2.4,5.6],[-6.55,1.7,5.9],[-6.55,1.05,5.4],[-6.55,0.4,6.1],[-6.55,-0.25,5.5],[-6.45,-0.85,5.4],[-6.25,2.7,5.4],[-6.25,2,5.0],[-6.25,1.4,6.0],[-6.25,0.75,5.4],[-6.25,0.1,6.0],[-6.2,-0.55,5.7],[-6.15,-1.15,5.0],[-5.95,3,4.8],[-5.95,2.4,5.6],[-5.95,1.75,5.1],[-5.95,1.1,6.0],[-5.95,0.5,5.4],[-5.95,-0.15,5.8],[-5.9,-0.85,5.4],[-5.65,2.8,4.6],[-5.65,2.2,5.2],[-5.65,1.5,5.8],[-5.65,0.9,5.1],[-5.65,0.2,5.7],[-5.65,-0.5,5.9],[-5.6,-1.15,5.5],[-5.35,2.6,5.0],[-5.35,1.95,5.6],[-5.35,1.3,5.2],[-5.35,0.6,5.8],[-5.35,-0.1,5.1],[-5.35,-0.8,5.8],[-5.05,2.4,4.8],[-5.05,1.75,5.4],[-5.05,1.05,5.8],[-5.05,0.35,5.2],[-5.05,-0.35,5.7],[-5,-1.05,6.0],[-4.75,2.2,4.6],[-4.75,1.5,5.2],[-4.75,0.85,5.5],[-4.75,0.1,5.5],[-4.75,-0.55,5.4],[-4.45,2,5.0],[-4.45,1.4,4.6],[-4.15,2.05,4.2],[-3.85,2,3.8],[-4.45,0.65,5.0],[-8.2,2.2,3.5],[-7.95,2.6,3.4],[-7.55,3.05,3.2],[-7.55,-1.2,4.8],[-7.2,-1.25,4.0],[-6.85,-1.1,5.0],[-7.8,-2.4,4.0],[-7.4,-2.45,3.6],[-7.15,-2.5,4.6],[-6.85,-2.55,3.8],[-6.5,-2.6,4.6],[-7.8,-3,3.7],[-7.45,-3.1,4.2],[-7.1,-3.05,3.6],[-6.75,-3.2,4.0]];
const ppbpPoints = [[5.5,2.9,4.3],[5.7,3.1,4.6],[5.9,3.3,4.2],[6,3.6,4.8],[6.2,3.7,5.0],[6.4,4,4.8],[6.6,3.7,4.0],[6.7,3.4,4.6],[6.8,5,4.6],[7,5.4,3.8],[7.2,5.8,4.5],[7.4,6.1,4.8],[7.6,6.4,4.3],[7.8,6.8,3.8],[-4.8,1.2,3.0],[-4.9,0.6,3.6],[-4.6,0.2,3.2],[-4.8,-0.4,3.0],[-4.3,0.4,3.8],[-4,0.3,4.0],[-3.8,0.2,4.2],[-3.6,0.1,3.6],[-7.3,-5.2,4.4],[-7.1,-4.9,3.8],[-6.9,-4.6,3.6],[-6.6,-4.4,3.2],[3.7,0.5,3.0],[4,0.6,3.4],[6.6,0.1,3.6],[6.9,0.3,2.8],[9.6,-1.7,3.0],[10.1,-1.6,2.8],[10.4,-1.9,3.2],[10.6,-2,3.8],[10.9,-1.9,2.8],[11,-1.1,2.4],[3,-7,3.4],[2.7,-6.6,4.0],[2.4,-5.3,2.4],[1.6,-3,2.6],[2.4,-3.3,3.0],[4.1,-3,2.8],[4.6,-4.8,2.6],[-6.2,3.1,2.8]];
const genePoints = [cd3dPoints.concat(cd3dMore), sellPoints.concat(sellMore), cremPoints.concat(cremMore), cd8aPoints, gnlyPoints.concat(gnlyMore), cd79aPoints.concat(cd79aMore), fcgrPoints.concat(fcgrMore), ccl2Points.concat(ccl2More), ppbpPoints];

let myChart = echarts.init(document.getElementById('main'));

// pixel layout of the 3 x 3 panels
const panelLeft = [96.7, 623, 1149];
const panelTop = [68.3, 376.7, 684];
const panelWidth = 320.5;
const panelHeight = 166;
const barTop = [82.7, 390, 698];

let title = [], grid = [], xAxis = [], yAxis = [], series = [], visualMap = [];

genes.forEach((gene, i) => {
  let col = i % 3, row = Math.floor(i / 3);
  let left = panelLeft[col], top = panelTop[row];
  title.push({
    text: gene, left: left + panelWidth / 2 - 6, top: top - 49, textAlign: 'center',
    textStyle: { fontFamily: 'Liberation Sans', fontWeight: 'bold', fontSize: 31.5, color: '#000' }
  });

  // umap panel
  let g = grid.length;
  grid.push({ left: left, top: top, width: panelWidth, height: panelHeight });
  xAxis.push({
    gridIndex: g, type: 'value', min: xRange[0], max: xRange[1], splitLine: { show: false },
    name: 'UMAP_1', nameLocation: 'middle', nameGap: 43,
    nameTextStyle: { fontFamily: 'Liberation Sans', fontSize: 27.5, color: '#000' },
    axisLine: { onZero: false, lineStyle: { color: '#000', width: 2 } },
    axisTick: { customValues: xTicks, length: 6, lineStyle: { color: '#000', width: 2 } },
    axisLabel: { customValues: xTicks, margin: 13, fontFamily: 'Liberation Sans', fontSize: 23, color: '#000' }
  });
  let yIndex = yAxis.length;
  yAxis.push({
    gridIndex: g, type: 'value', min: yRange[0], max: yRange[1], splitLine: { show: false },
    name: 'UMAP_2', nameLocation: 'middle', nameGap: 45,
    nameTextStyle: { fontFamily: 'Liberation Sans', fontSize: 27.5, color: '#000' },
    axisLine: { show: true, onZero: false, lineStyle: { color: '#000', width: 2 } },
    axisTick: { show: true, customValues: yTicks, length: 6, lineStyle: { color: '#000', width: 2 } },
    // top aligned with a short line box puts the digits a little under the tick, as in the original
    axisLabel: { customValues: yTicks, margin: 13, verticalAlign: 'top', lineHeight: 7, fontFamily: 'Liberation Sans', fontSize: 23, color: '#000' }
  });

  // grey cell background, all clusters
  series.push({
    type: 'custom', xAxisIndex: g, yAxisIndex: yIndex, silent: true, animation: false,
    data: clusterOutlines.map((c, k) => [k]),
    renderItem: (params, api) => ({
      type: 'polygon',
      shape: { points: clusterOutlines[params.dataIndex].map(p => api.coord(p)) },
      style: { fill: lowToHigh[0], stroke: lowToHigh[0], lineWidth: 1 }
    })
  });
  series.push({
    type: 'custom', xAxisIndex: g, yAxisIndex: yIndex, silent: true, animation: false,
    data: holeOutlines.map((c, k) => [k]),
    renderItem: (params, api) => ({
      type: 'polygon',
      shape: { points: holeOutlines[params.dataIndex].map(p => api.coord(p)) },
      style: { fill: '#fff' }
    })
  });
  series.push({
    type: 'scatter', xAxisIndex: g, yAxisIndex: yIndex, silent: true, animation: false,
    data: strayPoints, symbolSize: 3, itemStyle: { color: lowToHigh[0], opacity: 1 }
  });
  series.push({
    type: 'scatter', xAxisIndex: g, yAxisIndex: yIndex, silent: true, animation: false,
    data: gapDots, symbolSize: 2.5, itemStyle: { color: '#fff', opacity: 1 }
  });
  visualMap.push({
    show: false, seriesIndex: series.length, dimension: 2,
    min: barMin[i], max: barMax[i], inRange: { color: lowToHigh }
  });
  series.push({
    type: 'scatter', xAxisIndex: g, yAxisIndex: yIndex, silent: true, animation: false,
    data: genePoints[i], symbolSize: 3.4, itemStyle: { opacity: 1 }
  });

  // colour bar: bar on its own small axes, white ticks on both edges
  let b = grid.length;
  grid.push({ left: left + panelWidth + 27.8, top: barTop[row], width: 31, height: 153 });
  xAxis.push({ gridIndex: b, type: 'category', data: [''], show: false });
  let tickValues = barTicks[i].map(Number);
  let barAxis = {
    gridIndex: b, type: 'value', min: barMin[i], max: barMax[i], splitLine: { show: false },
    axisLine: { show: false }, z: 5,
    axisTick: { show: true, inside: true, customValues: tickValues, length: 6, lineStyle: { color: '#fff', width: 1.5 } }
  };
  let barIndex = yAxis.length;
  yAxis.push(Object.assign({}, barAxis, {
    position: 'right',
    axisLabel: {
      customValues: tickValues, margin: 14, verticalAlign: 'top', lineHeight: 6, fontFamily: 'Liberation Sans', fontSize: 24, color: '#000',
      formatter: v => barTicks[i][0].length > 1 ? v.toFixed(1) : String(v)
    }
  }));
  yAxis.push(Object.assign({}, barAxis, { position: 'left', axisLabel: { show: false } }));
  series.push({
    type: 'bar', xAxisIndex: b, yAxisIndex: barIndex, silent: true, animation: false,
    barWidth: '100%', data: [barMax[i]],
    itemStyle: {
      color: new echarts.graphic.LinearGradient(0, 0, 0, 1,
        lowToHigh.slice().reverse().map((c, k) => ({ offset: k / 4, color: c })))
    }
  });
});

let option = {
  backgroundColor: '#fff',
  animation: false,
  title: title,
  grid: grid,
  xAxis: xAxis,
  yAxis: yAxis,
  visualMap: visualMap,
  series: series,
  graphic: [{
    type: 'text', left: 1303, top: 852, z: 100, silent: true,
    style: {
      text: '知乎 @Neal', fontFamily: 'Noto Sans CJK SC', fontSize: 49,
      fill: 'rgba(165,165,165,0.85)', stroke: 'rgba(255,255,255,0.7)', lineWidth: 1
    }
  }]
};
myChart.setOption(option);
</script>
</body>
</html>
